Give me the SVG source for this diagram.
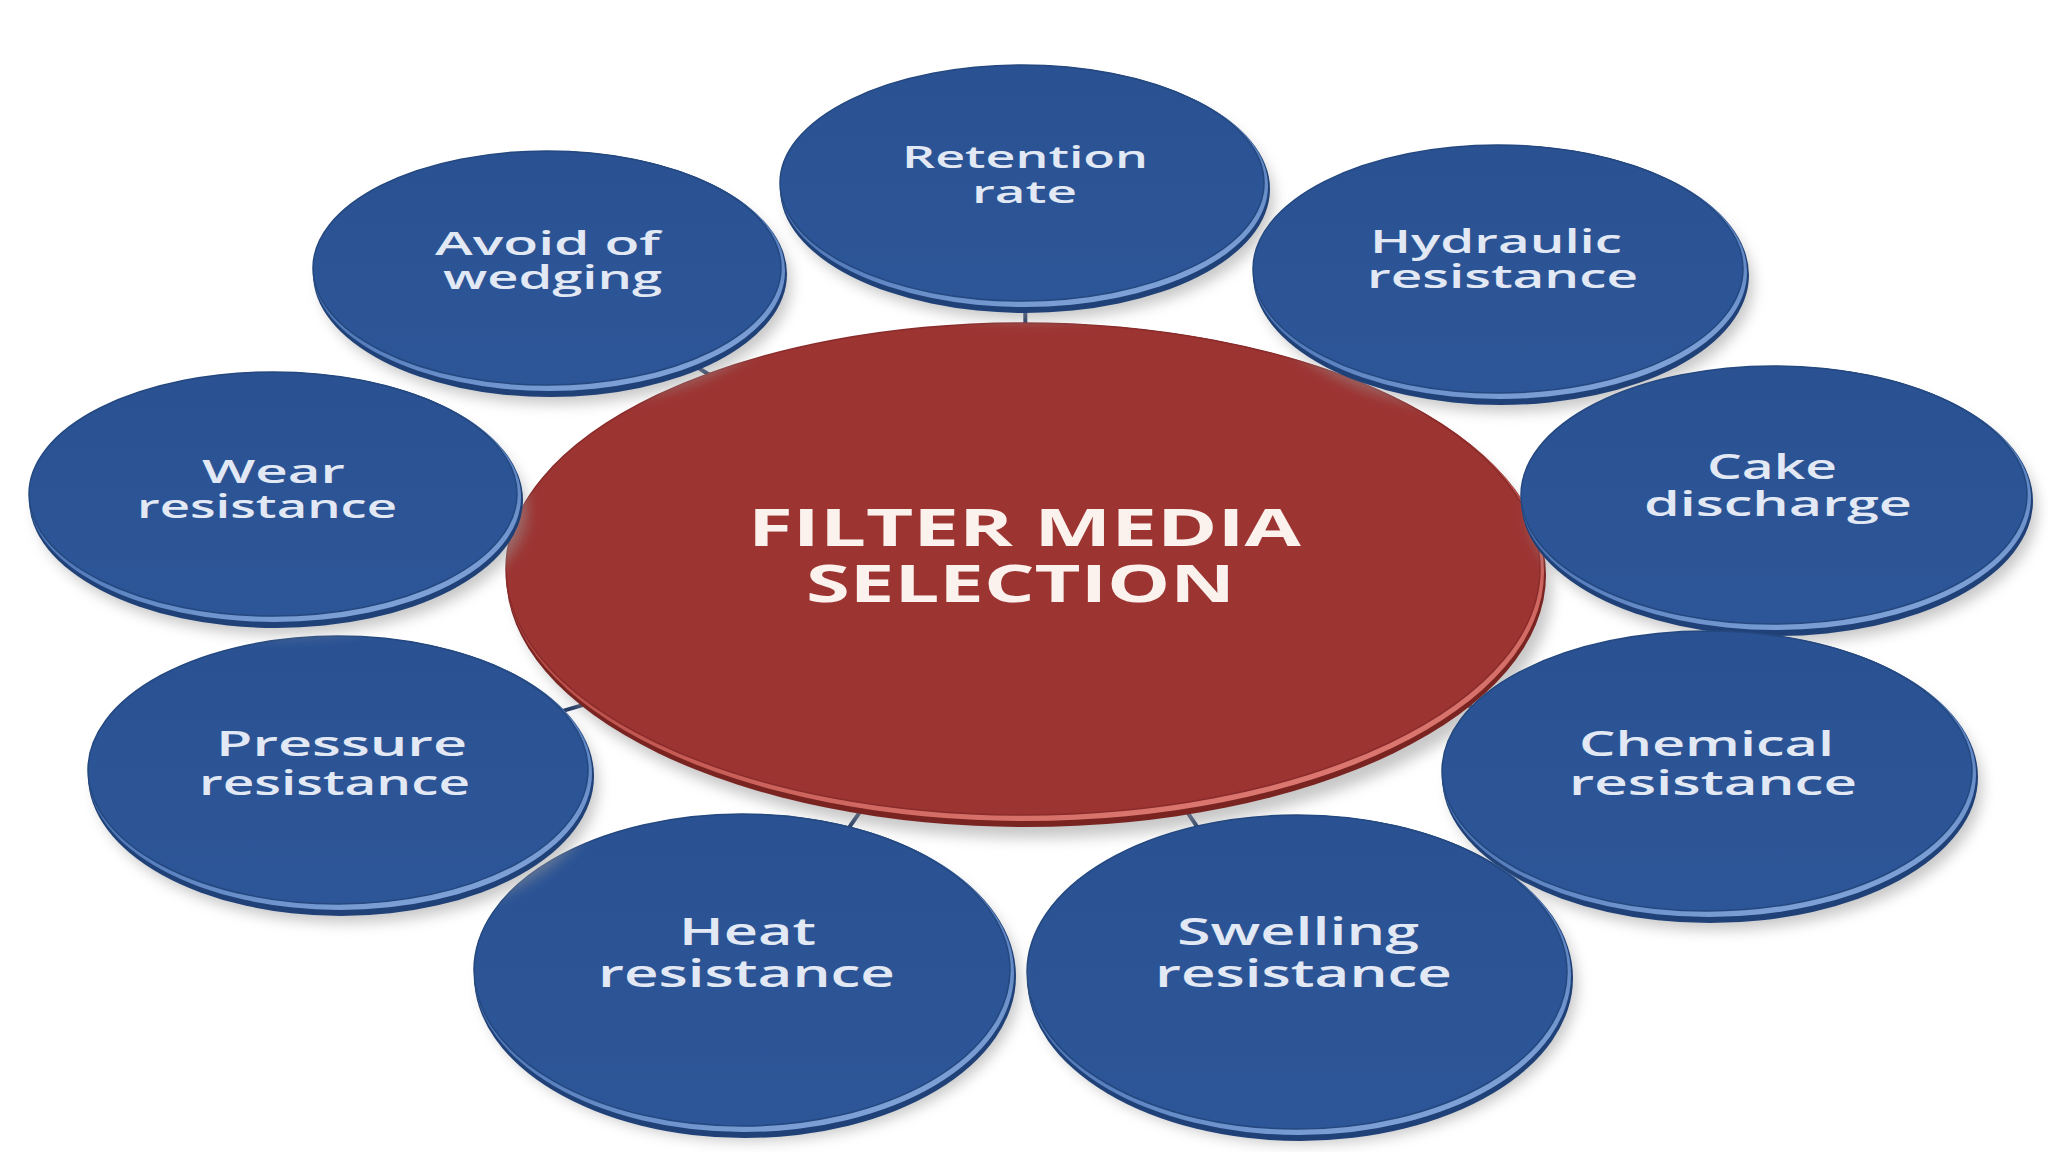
<svg xmlns="http://www.w3.org/2000/svg" width="2048" height="1152" viewBox="0 0 2048 1152">
  <defs>
    <filter id="shadow" x="-20%" y="-20%" width="140%" height="150%">
      <feGaussianBlur stdDeviation="7"/>
    </filter>
    <linearGradient id="blueFace" x1="0" y1="0" x2="0" y2="1">
      <stop offset="0" stop-color="#2a5293"/>
      <stop offset="1" stop-color="#2d5698"/>
    </linearGradient>
    <linearGradient id="blueRim" x1="0.2" y1="0" x2="0.8" y2="1">
      <stop offset="0" stop-color="#2b5292"/>
      <stop offset="0.6" stop-color="#5a82c0"/>
      <stop offset="1" stop-color="#86a8dc"/>
    </linearGradient>
    <linearGradient id="redRim" x1="0.2" y1="0" x2="0.8" y2="1">
      <stop offset="0" stop-color="#9a3231"/>
      <stop offset="0.6" stop-color="#c45852"/>
      <stop offset="1" stop-color="#e07e76"/>
    </linearGradient>
  </defs>
  <style>
    .shadow { fill: #9a9a9a; opacity: 0.55; filter: url(#shadow); }
    .b-side { fill: #1f4178; }
    .b-rim { fill: url(#blueRim); }
    .b-face { fill: url(#blueFace); stroke: #24487f; stroke-width: 1.5; }
    .r-side { fill: #7a2422; }
    .r-rim { fill: url(#redRim); }
    .r-face { fill: #9c3432; stroke: #8a2c2b; stroke-width: 1.5; }
    .lbl { font-family: "Open Sans", "Noto Sans", "Liberation Sans", sans-serif; font-weight: 600; fill: #e2e9f4; }
    .title { font-family: "Open Sans", "Noto Sans", "Liberation Sans", sans-serif; font-weight: 700; fill: #fbf2ee; font-size: 52px; }
    .conn { stroke: #1b3360; stroke-width: 4; fill: none; }
  </style>
  <rect width="2048" height="1152" fill="#ffffff"/>

  <g id="connectors">
    <line class="conn" x1="1026" y1="575" x2="1025" y2="189"/>
    <line class="conn" x1="1026" y1="575" x2="1501" y2="275"/>
    <line class="conn" x1="1026" y1="575" x2="1777" y2="501"/>
    <line class="conn" x1="1026" y1="575" x2="1710" y2="777"/>
    <line class="conn" x1="1026" y1="575" x2="1300" y2="978"/>
    <line class="conn" x1="1026" y1="575" x2="745" y2="976"/>
    <line class="conn" x1="1026" y1="575" x2="341" y2="776"/>
    <line class="conn" x1="1026" y1="575" x2="276" y2="500"/>
    <line class="conn" x1="1026" y1="575" x2="550" y2="274"/>
  </g>

  <g id="center">
    <ellipse class="shadow" cx="1034" cy="588" rx="518" ry="250"/>
    <ellipse class="r-side" cx="1026" cy="575" rx="520" ry="252"/>
    <ellipse class="r-rim" cx="1025" cy="572" rx="519" ry="249"/>
    <ellipse class="r-face" cx="1023" cy="569" rx="517" ry="246"/>
    <text class="title" x="748" y="546" textLength="553" lengthAdjust="spacingAndGlyphs">FILTER MEDIA</text>
    <text class="title" x="806" y="602" textLength="429" lengthAdjust="spacingAndGlyphs">SELECTION</text>
  </g>

  <g id="n-retention">
    <ellipse class="shadow" cx="1031" cy="199" rx="243" ry="121"/>
    <ellipse class="b-side" cx="1025" cy="189" rx="245" ry="124"/>
    <ellipse class="b-rim" cx="1024" cy="186" rx="244" ry="121"/>
    <ellipse class="b-face" cx="1022" cy="183" rx="242" ry="118"/>
    <text class="lbl" font-size="31" x="902" y="168" textLength="246" lengthAdjust="spacingAndGlyphs">Retention</text>
    <text class="lbl" font-size="31" x="972" y="203" textLength="105" lengthAdjust="spacingAndGlyphs">rate</text>
  </g>

  <g id="n-hydraulic">
    <ellipse class="shadow" cx="1507" cy="285" rx="246" ry="127"/>
    <ellipse class="b-side" cx="1501" cy="275" rx="248" ry="130"/>
    <ellipse class="b-rim" cx="1500" cy="272" rx="247" ry="127"/>
    <ellipse class="b-face" cx="1498" cy="269" rx="245" ry="124"/>
    <text class="lbl" font-size="32" x="1370" y="253" textLength="252" lengthAdjust="spacingAndGlyphs">Hydraulic</text>
    <text class="lbl" font-size="32" x="1367" y="288" textLength="271" lengthAdjust="spacingAndGlyphs">resistance</text>
  </g>

  <g id="n-cake">
    <ellipse class="shadow" cx="1783" cy="511" rx="254" ry="132"/>
    <ellipse class="b-side" cx="1777" cy="501" rx="256" ry="135"/>
    <ellipse class="b-rim" cx="1776" cy="498" rx="255" ry="132"/>
    <ellipse class="b-face" cx="1774" cy="495" rx="253" ry="129"/>
    <text class="lbl" font-size="34" x="1707" y="479" textLength="130" lengthAdjust="spacingAndGlyphs">Cake</text>
    <text class="lbl" font-size="34" x="1644" y="516" textLength="268" lengthAdjust="spacingAndGlyphs">discharge</text>
  </g>

  <g id="n-chemical">
    <ellipse class="shadow" cx="1716" cy="787" rx="266" ry="143"/>
    <ellipse class="b-side" cx="1710" cy="777" rx="268" ry="146"/>
    <ellipse class="b-rim" cx="1709" cy="774" rx="267" ry="143"/>
    <ellipse class="b-face" cx="1707" cy="771" rx="265" ry="140"/>
    <text class="lbl" font-size="35" x="1579" y="756" textLength="255" lengthAdjust="spacingAndGlyphs">Chemical</text>
    <text class="lbl" font-size="35" x="1569" y="795" textLength="288" lengthAdjust="spacingAndGlyphs">resistance</text>
  </g>

  <g id="n-swelling">
    <ellipse class="shadow" cx="1306" cy="986" rx="271" ry="158"/>
    <ellipse class="b-side" cx="1300" cy="978" rx="273" ry="163"/>
    <ellipse class="b-rim" cx="1299" cy="975" rx="272" ry="160"/>
    <ellipse class="b-face" cx="1297" cy="972" rx="270" ry="157"/>
    <text class="lbl" font-size="37" x="1177" y="945" textLength="242" lengthAdjust="spacingAndGlyphs">Swelling</text>
    <text class="lbl" font-size="37" x="1155" y="987" textLength="297" lengthAdjust="spacingAndGlyphs">resistance</text>
  </g>

  <g id="n-heat">
    <ellipse class="shadow" cx="751" cy="984" rx="269" ry="157"/>
    <ellipse class="b-side" cx="745" cy="976" rx="271" ry="162"/>
    <ellipse class="b-rim" cx="744" cy="973" rx="270" ry="159"/>
    <ellipse class="b-face" cx="742" cy="970" rx="268" ry="156"/>
    <text class="lbl" font-size="37" x="679" y="945" textLength="137" lengthAdjust="spacingAndGlyphs">Heat</text>
    <text class="lbl" font-size="37" x="598" y="987" textLength="297" lengthAdjust="spacingAndGlyphs">resistance</text>
  </g>

  <g id="n-pressure">
    <ellipse class="shadow" cx="347" cy="786" rx="251" ry="137"/>
    <ellipse class="b-side" cx="341" cy="776" rx="253" ry="140"/>
    <ellipse class="b-rim" cx="340" cy="773" rx="252" ry="137"/>
    <ellipse class="b-face" cx="338" cy="770" rx="250" ry="134"/>
    <text class="lbl" font-size="35" x="216" y="756" textLength="251" lengthAdjust="spacingAndGlyphs">Pressure</text>
    <text class="lbl" font-size="35" x="199" y="795" textLength="271" lengthAdjust="spacingAndGlyphs">resistance</text>
  </g>

  <g id="n-wear">
    <ellipse class="shadow" cx="282" cy="510" rx="245" ry="125"/>
    <ellipse class="b-side" cx="276" cy="500" rx="247" ry="128"/>
    <ellipse class="b-rim" cx="275" cy="497" rx="246" ry="125"/>
    <ellipse class="b-face" cx="273" cy="494" rx="244" ry="122"/>
    <text class="lbl" font-size="33" x="202" y="483" textLength="143" lengthAdjust="spacingAndGlyphs">Wear</text>
    <text class="lbl" font-size="33" x="137" y="518" textLength="260" lengthAdjust="spacingAndGlyphs">resistance</text>
  </g>

  <g id="n-wedging">
    <ellipse class="shadow" cx="556" cy="284" rx="235" ry="120"/>
    <ellipse class="b-side" cx="550" cy="274" rx="237" ry="123"/>
    <ellipse class="b-rim" cx="549" cy="271" rx="236" ry="120"/>
    <ellipse class="b-face" cx="547" cy="268" rx="234" ry="117"/>
    <text class="lbl" font-size="33" x="435" y="255" textLength="225" lengthAdjust="spacingAndGlyphs">Avoid of</text>
    <text class="lbl" font-size="33" x="443" y="289" textLength="219" lengthAdjust="spacingAndGlyphs">wedging</text>
  </g>
</svg>
